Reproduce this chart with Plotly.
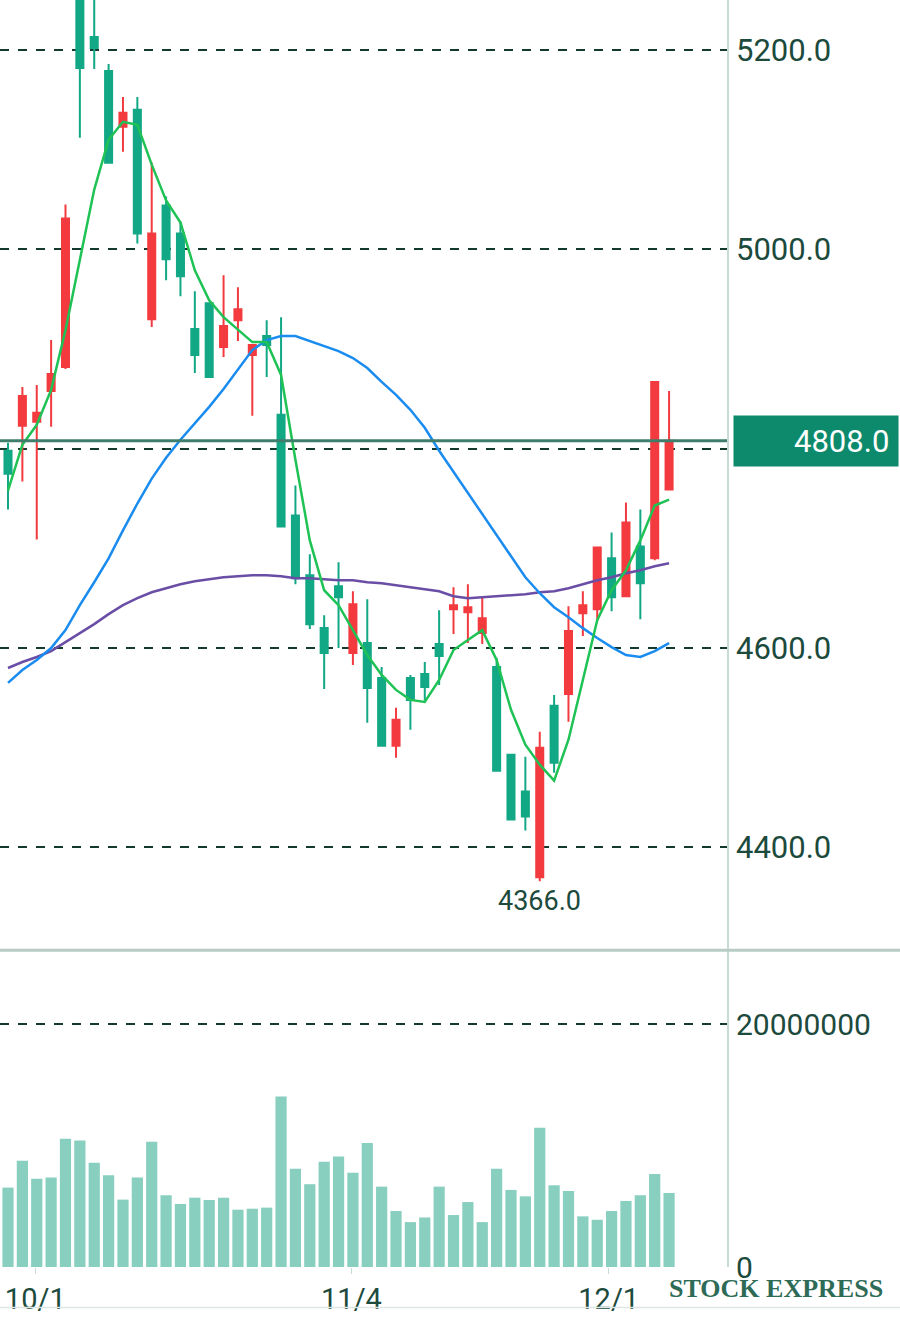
import plotly.graph_objects as go

idx = list(range(47))
opens = [4798,4823,4827,4858,4882,5265,5213,5179,5123,5140,4930,5044,5016,4920,4946,4902,4929,4894,4913,4834,
         4733,4673,4620,4662,4595,4605,4570,4502,4570,4574,4604,4639,4636,4615,4581,4493,4456,4370,4542,4554,
         4635,4639,4690,4652,4702,4690,4759]
closes = [4775,4853,4836,4875,5031,5182,5202,5087,5137,5016,5016,4990,4973,4894,4872,4923,4940,4904,4904,4722,
          4670,4624,4595,4651,4644,4560,4502,4528,4548,4561,4592,4643,4641,4630,4477,4428,4431,4500,4485,4617,
          4643,4701,4651,4726,4665,4867,4808]
highs = [4806,4862,4864,4909,5045,5280,5260,5186,5153,5153,5087,5053,5028,4958,4946,4974,4962,4904,4929,4932,
         4763,4694,4633,4686,4657,4649,4581,4540,4573,4586,4638,4661,4664,4651,4590,4493,4491,4516,4553,4642,
         4657,4701,4716,4746,4739,4867,4858]
lows = [4739,4767,4709,4822,4880,5112,5181,5087,5098,5006,4922,4969,4953,4876,4872,4892,4908,4833,4872,4721,
        4664,4619,4559,4600,4583,4525,4502,4490,4518,4548,4563,4614,4605,4604,4477,4428,4417,4366,4475,4526,
        4612,4627,4637,4652,4629,4688,4759]
volumes = [6.54,8.75,7.26,7.37,10.57,10.41,8.58,7.56,5.55,7.37,10.32,5.91,5.19,5.71,5.52,5.71,4.72,4.80,4.89,14.05,
           8.09,6.82,8.67,9.11,7.76,10.21,6.62,4.61,3.70,4.08,6.62,4.28,5.35,3.70,8.09,6.35,5.82,11.48,6.73,6.27,
           4.17,3.89,4.61,5.44,5.91,7.65,6.10]
ma_short = [4758,4804,4824,4859,4919,4989,5060,5110,5128,5125,5085,5049,5027,4979,4949,4932,4919,4907,4907,4874,
            4789,4708,4658,4643,4618,4593,4573,4558,4548,4546,4568,4598,4608,4618,4588,4538,4503,4483,4467,4508,
            4568,4628,4658,4678,4708,4743,4749]
ma_mid = [4565,4578,4588,4600,4618,4643,4666,4690,4718,4745,4770,4791,4809,4825,4842,4860,4879,4899,4909,4913,
          4913,4908,4903,4898,4891,4881,4867,4854,4839,4821,4798,4777,4756,4734,4713,4692,4671,4655,4641,4631,
          4620,4610,4601,4593,4591,4597,4605]
ma_long = [4580,4586,4591,4597,4606,4615,4624,4634,4643,4650,4656,4660,4664,4667,4669,4671,4672,4673,4673,4672,
           4670,4670,4669,4668,4668,4666,4665,4663,4661,4659,4657,4652,4650,4651,4652,4653,4654,4656,4657,4660,
           4664,4668,4671,4675,4678,4682,4685]
price_ticks = [5200, 5000, 4800, 4600, 4400]
vol_ticks = [0, 20000000]
date_pos = [1.9, 23.9, 41.8]
date_labels = ["10/1", "11/4", "12/1"]
last_price = 4808.0
low_price = 4366.0
low_idx = 37

RED = "#f33b3f"
TEAL = "#12a886"
DARK = "#1c4a3c"

fig = go.Figure()
fig.add_trace(go.Candlestick(x=idx, open=opens, high=highs, low=lows, close=closes,
                             increasing=dict(line=dict(color=RED, width=2), fillcolor=RED),
                             decreasing=dict(line=dict(color=TEAL, width=2), fillcolor=TEAL),
                             whiskerwidth=0, hoverinfo="skip", xaxis="x", yaxis="y"))
fig.add_trace(go.Scatter(x=idx, y=ma_long, mode="lines", line=dict(color="#6a4ea6", width=2.5), xaxis="x", yaxis="y"))
fig.add_trace(go.Scatter(x=idx, y=ma_mid, mode="lines", line=dict(color="#1a8cf0", width=2.5), xaxis="x", yaxis="y"))
fig.add_trace(go.Scatter(x=idx, y=ma_short, mode="lines", line=dict(color="#1fc254", width=2.5), xaxis="x", yaxis="y"))
fig.add_trace(go.Bar(x=idx, y=[v * 1e6 for v in volumes], marker=dict(color="#88cfc0", line=dict(width=0)),
                     width=0.78, xaxis="x", yaxis="y2"))

fig.add_hline(y=last_price, line=dict(color="#3f7d6c", width=3), yref="y")

for p in price_ticks:
    fig.add_annotation(xref="paper", yref="y", x=1, y=p, text=f"{p:.1f}", showarrow=False,
                       xanchor="left", xshift=6, font=dict(size=31, color=DARK, family="Roboto"))
for v in vol_ticks:
    fig.add_annotation(xref="paper", yref="y2", x=1, y=v, text=str(v), showarrow=False,
                       xanchor="left", xshift=6, font=dict(size=30, color=DARK, family="Roboto"))
fig.add_annotation(xref="paper", yref="y", x=1, y=last_price, text=f"{last_price:.1f} ", showarrow=False,
                   xanchor="left", xshift=5, width=162, height=48, align="right", bgcolor="#0d8a6c",
                   font=dict(size=31, color="white", family="Roboto"))
fig.add_annotation(x=low_idx, y=low_price, xref="x", yref="y", text=f"{low_price:.1f}", showarrow=False,
                   yanchor="top", yshift=-2, font=dict(size=27, color=DARK, family="Roboto"))
fig.add_annotation(xref="paper", yref="paper", x=1.216, y=-0.004, text="<b>STOCK EXPRESS</b>", showarrow=False,
                   xanchor="right", yanchor="top", font=dict(size=26, color="#2e6b57", family="Liberation Serif"))

fig.add_shape(type="line", xref="paper", yref="paper", x0=1, x1=1, y0=-0.0, y1=1,
              line=dict(color="#c9dbd6", width=2))
fig.add_shape(type="line", xref="paper", yref="paper", x0=0, x1=1.24, y0=0.25, y1=0.25,
              line=dict(color="#b7ccc5", width=3))
fig.add_shape(type="line", xref="paper", yref="paper", x0=0, x1=1.24, y0=-0.032, y1=-0.032,
              line=dict(color="#dde7e4", width=1.5))

fig.update_layout(
    width=900, height=1327, margin=dict(l=0, r=172, t=0, b=60),
    paper_bgcolor="white", plot_bgcolor="white", showlegend=False,
    xaxis=dict(range=[-0.557, 50.1], showgrid=False, zeroline=False, anchor="y2",
               tickvals=date_pos, ticktext=date_labels, ticks="outside", ticklen=6, tickcolor="#c9dbd6",
               tickfont=dict(size=29, color=DARK, family="Roboto"), rangeslider=dict(visible=False)),
    yaxis=dict(domain=[0.25, 1], range=[4296.8, 5250.2], tickvals=price_ticks, showticklabels=False,
               showgrid=True, gridcolor="#143a2e", griddash="dash", gridwidth=2, zeroline=False),
    yaxis2=dict(domain=[0, 0.25], range=[0, 26.09e6], tickvals=vol_ticks, showticklabels=False,
                showgrid=True, gridcolor="#143a2e", griddash="dash", gridwidth=2, zeroline=False),
)
fig.write_html("out.html", config={"displayModeBar": False},
               post_script="document.body.style.margin='0';document.body.style.overflow='hidden';")
